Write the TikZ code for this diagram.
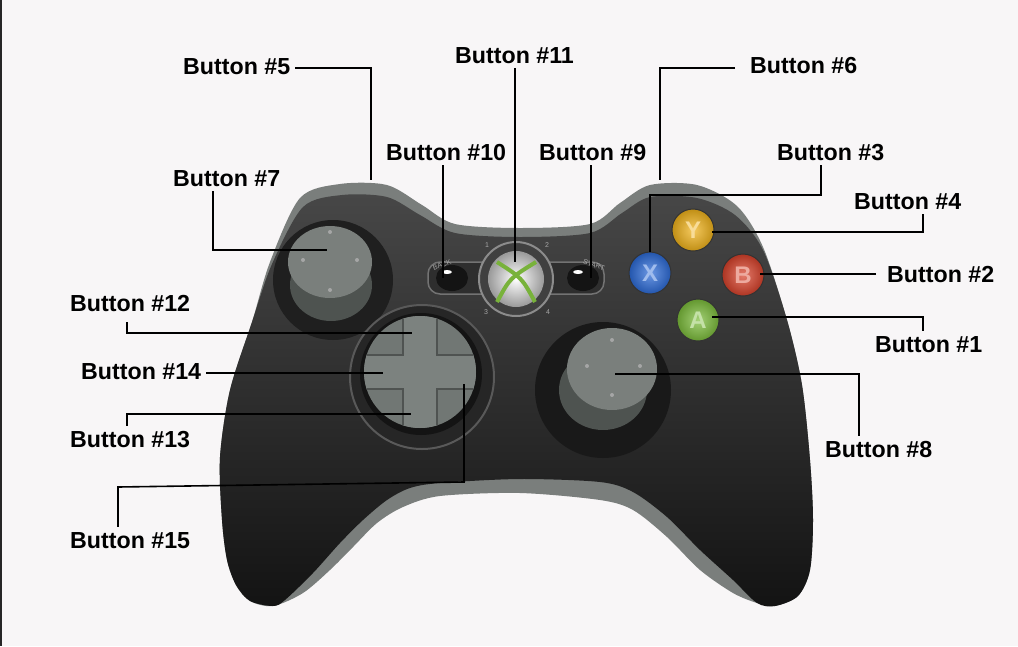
\documentclass[tikz,border=0pt]{standalone}
\usepackage{fontspec}
\setmainfont{Liberation Sans}
\usetikzlibrary{calc}
\definecolor{paper}{HTML}{F8F6F7}
\definecolor{shell}{HTML}{7A7E7C}
\definecolor{bodytop}{HTML}{474747}
\definecolor{bodybot}{HTML}{131313}
\definecolor{capface}{HTML}{7A7F7C}
\definecolor{capside}{HTML}{4E5350}
\definecolor{padface}{HTML}{717774}
\definecolor{xblue}{HTML}{2C6BD8}
\definecolor{yyellow}{HTML}{F0B21A}
\definecolor{bred}{HTML}{D8412A}
\definecolor{agreen}{HTML}{7CBD3B}
\definecolor{logogreen}{HTML}{78B23A}
\def\facebtn(#1,#2)(#3)(#4){\shade[inner color=#3!70!white, outer color=#3!80!black, draw=black!80, line width=1] (#1,#2) circle (21);
	\node[text=#3!45!white, font=\bfseries\fontsize{24}{24}\selectfont] at (#1,#2) {#4};}
\tikzset{
	lbl/.style={font=\bfseries\fontsize{23.2}{26}\selectfont, inner sep=5pt, anchor=base west},
	leader/.style={draw=black, line width=1.6},
	tiny/.style={text=black!35, font=\fontsize{7}{7}\selectfont, inner sep=0pt}
}

\begin{document}
\begin{tikzpicture}[x=1pt, y=-1pt]
			%%%%% START %%%%%
			
			\useasboundingbox (0,0) rectangle (1018,646);
			\fill[paper] (0,0) rectangle (1018,646);
			\draw[black!85, line width=1.5] (0.75,0) -- (0.75,646);
			
			% shell and body
			\fill[shell] plot[smooth cycle, tension=0.5] coordinates {(270,262) (300,198) (340,184) (387,185) (422,205) (455,224) (520,228) (590,224) (620,203) (650,185) (697,185) (737,206) (763,247) (787,320) (802,385) (810,460) (813,520) (810,570) (798,596) (775,606) (757,603) (733,593) (700,570) (667,537) (633,510) (600,500) (520,493) (440,496) (403,507) (377,523) (353,547) (330,570) (303,593) (273,606) (250,601) (236,585) (227,560) (222,520) (220,457) (230,390) (252,322)};
			\shade[top color=bodytop, bottom color=bodybot] plot[smooth cycle, tension=0.5] coordinates {(272,264) (303,207) (342,195) (387,197) (420,215) (455,233) (520,237) (590,233) (622,213) (650,197) (697,198) (735,215) (763,250) (787,320) (802,385) (810,460) (813,520) (810,570) (798,596) (775,606) (757,603) (733,580) (700,550) (667,517) (633,492) (600,482) (520,479) (440,483) (410,488) (387,500) (363,520) (340,543) (313,573) (285,600) (273,606) (250,601) (236,585) (227,560) (222,520) (220,457) (230,390) (252,322)};
			
			% back / start strip
			\draw[fill=black!82, draw=black!55, line width=1.5, rounded corners=12] (428,262) rectangle (604,294);
			\fill[black!92] (452,278) ellipse (16 and 13);
			\fill[black!92] (583,278) ellipse (16 and 13);
			\fill[white!80] (447,272) ellipse (5 and 2);
			\fill[white!80] (578,272) ellipse (5 and 2);
			\node[tiny, rotate=20] at (442,265) {BACK};
			\node[tiny, rotate=-20] at (594,265) {START};
			
			% guide button
			\draw[fill=black!75, draw=black!45, line width=2] (516,279) circle (37);
			\shade[inner color=white, outer color=black!40] (516,279) circle (28);
			\draw[logogreen, line width=4] (497,262) .. controls (522,278) .. (535,302);
			\draw[logogreen, line width=4] (536,262) .. controls (510,278) .. (497,302);
			\node[tiny] at (487,245) {1};
			\node[tiny] at (547,245) {2};
			\node[tiny] at (486,312) {3};
			\node[tiny] at (548,312) {4};
			
			% left stick
			\fill[black!88] (333,280) circle (60);
			\fill[capside] (331,285) ellipse (41 and 36);
			\fill[capface] (330,262) ellipse (42 and 36);
			\foreach \p in {(330,232),(303,260),(357,260),(330,290)}
				\fill[black!35] \p circle (2);
			
			% right stick
			\fill[black!90] (603,390) circle (68);
			\fill[capside] (603,390) ellipse (44 and 40);
			\fill[capface] (612,369) ellipse (45 and 41);
			\foreach \p in {(612,340),(587,366),(640,366),(612,395)}
				\fill[black!35] \p circle (2);
			
			% d-pad
			\draw[fill=black!85, draw=black!65, line width=2] (422,377) circle (72);
			\fill[black!92] (421,374) circle (61);
			\fill[padface] (420,372) circle (56);
			\begin{scope}
				\clip (420,372) circle (56);
				\draw[fill=padface!92!white, draw=padface!70!black, line width=1.2] (403,310) -- (437,310) -- (437,355) -- (480,355) -- (480,389) -- (437,389) -- (437,434) -- (403,434) -- (403,389) -- (360,389) -- (360,355) -- (403,355) -- cycle;
			\end{scope}
			
			% face buttons
			\facebtn(650,273)(xblue)(X)
			\facebtn(693,230)(yyellow)(Y)
			\facebtn(743,275)(bred)(B)
			\facebtn(698,320)(agreen)(A)
			
			% targets
			\coordinate (t1) at (712,317);
			\coordinate (t2) at (760,274);
			\coordinate (t3) at (650,252);
			\coordinate (t4) at (712,232);
			\coordinate (t5) at (371,180);
			\coordinate (t6) at (660,180);
			\coordinate (t7) at (327,250);
			\coordinate (t8) at (615,374);
			\coordinate (t9) at (591,278);
			\coordinate (t10) at (443,278);
			\coordinate (t11) at (515,262);
			\coordinate (t12) at (412,333);
			\coordinate (t13) at (411,414);
			\coordinate (t14) at (383,373);
			\coordinate (t15) at (464,384);
			\coordinate (k1) at (923,317);
			\coordinate (k3) at (821,195);
			\coordinate (k4) at (923,232);
			\coordinate (k8) at (859,374);
			\coordinate (k7) at (213,250);
			\coordinate (k12) at (127,333);
			\coordinate (k13) at (127,414);
			\coordinate (k15) at (118,487);
			\coordinate (m15) at (464,482);
			
			% labels
			\node[lbl] (b5) at (178,74) {Button \#5};
			\node[lbl] (b11) at (450,63) {Button \#11};
			\node[lbl] (b10) at (381,160) {Button \#10};
			\node[lbl] (b9) at (534,160) {Button \#9};
			\node[lbl] (b6) at (745,73) {Button \#6};
			\node[lbl] (b3) at (772,160) {Button \#3};
			\node[lbl] (b4) at (849,209) {Button \#4};
			\node[lbl] (b2) at (882,282) {Button \#2};
			\node[lbl] (b1) at (870,352) {Button \#1};
			\node[lbl] (b8) at (820,457) {Button \#8};
			\node[lbl] (b7) at (168,186) {Button \#7};
			\node[lbl] (b12) at (65,311) {Button \#12};
			\node[lbl] (b14) at (76,379) {Button \#14};
			\node[lbl] (b13) at (65,447) {Button \#13};
			\node[lbl] (b15) at (65,548) {Button \#15};
			
			% leaders
			\draw[leader] ([yshift=-2pt]b5.east) -| (t5);
			\draw[leader] (b11.south -| t11) -- (t11);
			\draw[leader] (b10.south -| t10) -- (t10);
			\draw[leader] (b9.south -| t9) -- (t9);
			\draw[leader] ([xshift=-10pt, yshift=-3pt]b6.west) -| (t6);
			\draw[leader] (b3.south -| k3) -- (k3) -| (t3);
			\draw[leader] (b4.south -| k4) |- (t4);
			\draw[leader, shorten <=6pt] (t2 -| b2.west) -- (t2);
			\draw[leader] (b1.north -| k1) |- (t1);
			\draw[leader] (b8.north -| k8) |- (t8);
			\draw[leader] (b7.south -| k7) |- (t7);
			\draw[leader] ([yshift=-6pt]b12.south -| k12) |- (t12);
			\draw[leader] (t14 -| b14.east) -- (t14);
			\draw[leader] (b13.north -| k13) |- (t13);
			\draw[leader] (b15.north -| k15) -- (k15) -- (m15) -- (t15);
			
			%%%%% END %%%%%
\end{tikzpicture}
\end{document}
